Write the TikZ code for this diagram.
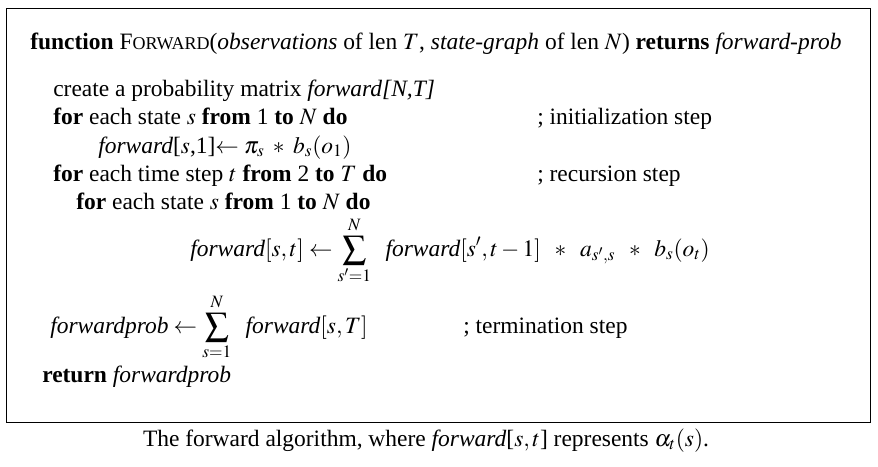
\documentclass[tikz,border=0pt]{standalone}
\usepackage{mathptmx}
\usepackage{fontspec}
\setmainfont{Liberation Serif}
\begin{document}
\begin{tikzpicture}[x=0.75pt,y=-0.75pt,every node/.style={inner sep=0pt,font=\fontsize{17.6pt}{20pt}\selectfont},L/.style={anchor=base west}]
\useasboundingbox (0,0) rectangle (878,467);
\draw[line width=0.6pt] (6,8) rectangle (870,422);
\node[L] (l1) at (30,50) {\textbf{function} F{\fontsize{13.5pt}{15pt}\selectfont ORWARD}(\textit{observations} of len $T$, \textit{state-graph} of len $N$) \textbf{returns} \textit{forward-prob}};
\node[L] (l2) at (53,97) {create a probability matrix \textit{forward[N,T]}};
\node[L] (l3) at (53,124) {\textbf{for} each state $s$ \textbf{from} 1 \textbf{to} $N$ \textbf{do}};
\node[L] (c3) at (537,124) {; initialization step};
\node[L] (l4) at (98,153) {\textit{forward}[$s$,1]$\leftarrow \pi_s\;*\;b_s(o_1)$};
\node[L] (l5) at (53,181) {\textbf{for} each time step $t$ \textbf{from} 2 \textbf{to} $T$ \textbf{do}};
\node[L] (c5) at (537,181) {; recursion step};
\node[L] (l6) at (76,209) {\textbf{for} each state $s$ \textbf{from} 1 \textbf{to} $N$ \textbf{do}};
\node[L] (l7) at (190,256) {$\displaystyle \textit{forward}[s,t]\leftarrow \sum_{s'=1}^{N}\ \ \textit{forward}[s',t-1]\;\;*\;\;a_{s',s}\;\;*\;\;b_s(o_t)$};
\node[L] (l8) at (50,333) {$\displaystyle \textit{forwardprob}\leftarrow \sum_{s=1}^{N}\ \ \textit{forward}[s,T]$};
\node[L] (c8) at (463,333) {; termination step};
\node[L] (l9) at (42,382) {\textbf{return} \textit{forwardprob}};
\node[anchor=base] (cap) at (426,446) {The forward algorithm, where \textit{forward}[$s,t$] represents $\alpha_t(s)$.};
\end{tikzpicture}
\end{document}
